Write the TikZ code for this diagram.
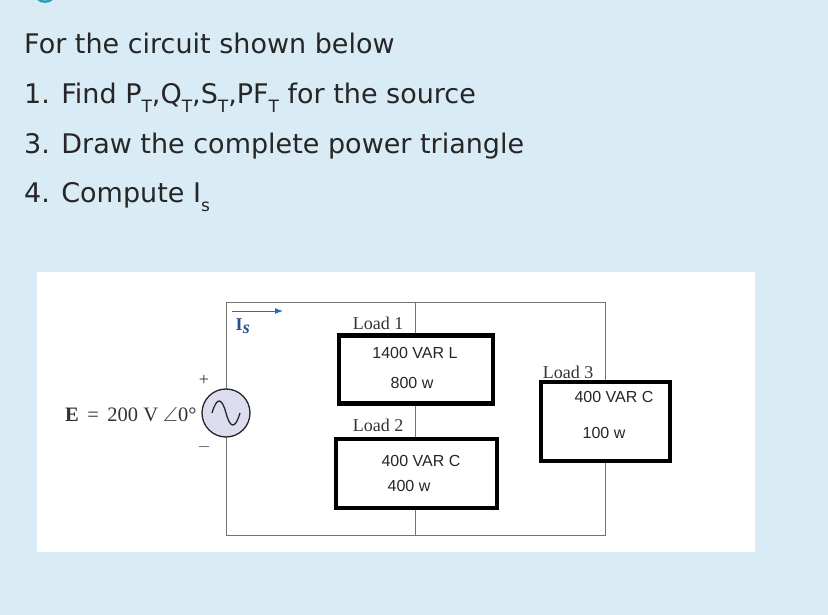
\documentclass[tikz,border=0pt]{standalone}
\usepackage{fontspec}
\setmainfont{DejaVu Sans}
\newfontfamily\serifc{Liberation Serif}
\newfontfamily\sansc{Liberation Sans}
\usepackage{amssymb}
\usetikzlibrary{arrows.meta}
\newcommand{\sbT}[1]{\raisebox{-0.3em}{\fontsize{17}{17}\selectfont #1}}
\begin{document}
\begin{tikzpicture}[x=1pt,y=-1pt,
  wire/.style={draw=black!55,line width=1pt},
  load/.style={draw=black,line width=4.5pt,fill=white},
  btxt/.style={font=\sansc\fontsize{16}{16}\selectfont,text=black!85},
  lbl/.style={font=\serifc\fontsize{18}{18}\selectfont,text=black!80},
  q/.style={anchor=base west,inner sep=0,font=\fontsize{27}{27}\selectfont,text=black!85}]
\fill[fill={rgb,255:red,217;green,236;blue,245}] (0,0) rectangle (828,615);
\useasboundingbox (0,0) rectangle (828,615);
\begin{scope}\clip (0,0) rectangle (828,615);
\fill[color={rgb,255:red,40;green,160;blue,180}] (45,-9) circle (12);
\fill[fill={rgb,255:red,217;green,236;blue,245}] (45,-9) circle (9.5);
\end{scope}
\node[q] (t1) at (24,54) {For the circuit shown below};
\node[q] (t2) at (24,104) {1. Find P\sbT{T},Q\sbT{T},S\sbT{T},PF\sbT{T} for the source};
\node[q] (t3) at (24,154) {3. Draw the complete power triangle};
\node[q] (t4) at (24,203) {4. Compute I\sbT{s}};
\fill[white] (37,272) rectangle (755,552);
% wires
\coordinate (tl) at (226,302); \coordinate (tr) at (605,302);
\coordinate (bl) at (226,535); \coordinate (br) at (605,535);
\coordinate (tm) at (415,302); \coordinate (bm) at (415,535);
\draw[wire] (tl) -- (tr) -- (br) -- (bl) -- cycle;
\draw[wire] (tm) -- (bm);
% source
\node[circle,draw=black!85,line width=1.3pt,fill={rgb,255:red,220;green,222;blue,240},minimum size=48pt,inner sep=0] (src) at (226,413) {};
\draw[line width=1.3pt,black!85] (212,413) .. controls (217,396) and (222,398) .. (226,413) .. controls (230,428) and (235,430) .. (240,413);
\node[lbl] (plus) at (204,380) {+};
\node[lbl] (minus) at (204,447) {$-$};
\node[lbl,anchor=east,font=\serifc\fontsize{20.5}{20.5}\selectfont] (E) at (200,415) {\textbf{E} \,=\, 200 V $\angle$0°};
% current
\coordinate (a1) at (232,311); \coordinate (a2) at (283,311);
\draw[color={rgb,255:red,40;green,110;blue,180},line width=1pt,-{Latex[length=8pt,width=6pt]}] (a1) -- (a2);
\node[font=\serifc\bfseries\fontsize{18}{18}\selectfont,text={rgb,255:red,40;green,80;blue,140}] (Is) at (243,326) {I$_{\textit{s}}$};
% loads
\node[load,minimum width=154pt,minimum height=68pt] (L1) at (416,369.5) {};
\node[btxt] at (415,353) {1400 VAR L};
\node[btxt] at (412,383) {800 w};
\node[lbl] (l1) at (378,323) {Load 1};
\node[load,minimum width=161pt,minimum height=69pt] (L2) at (416.5,473.5) {};
\node[btxt] at (421,461) {400 VAR C};
\node[btxt] at (409,486) {400 w};
\node[lbl] (l2) at (378,425) {Load 2};
\node[load,minimum width=129pt,minimum height=79pt] (L3) at (605.5,421.5) {};
\node[btxt] at (614,397) {400 VAR C};
\node[btxt] at (604,433) {100 w};
\node[lbl] (l3) at (568,372) {Load 3};
\end{tikzpicture}
\end{document}
